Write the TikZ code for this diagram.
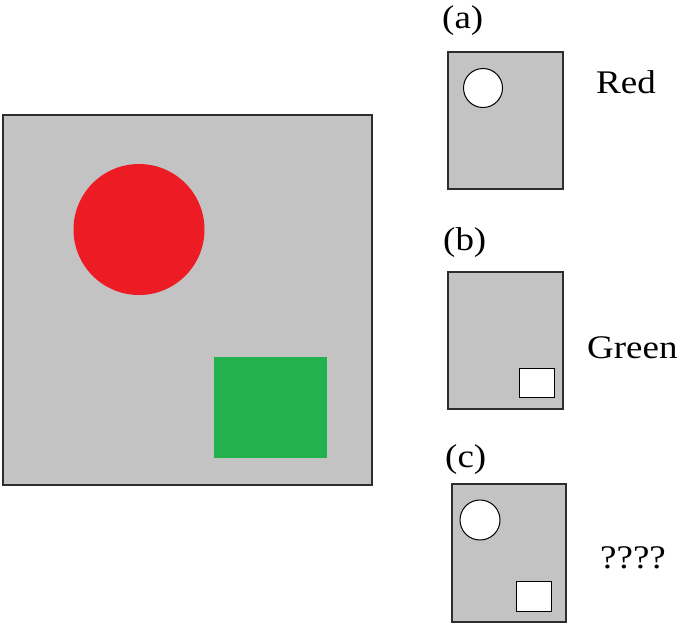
\documentclass[tikz,border=0pt]{standalone}
\usepackage{fontspec}
\setmainfont{Liberation Serif}[FakeStretch=1.12]
\definecolor{bggray}{RGB}{195,195,195}
\definecolor{redfill}{RGB}{237,28,36}
\definecolor{greenfill}{RGB}{34,177,76}
\definecolor{edge}{RGB}{45,45,45}
\tikzset{
  panel/.style={draw=edge, fill=bggray, line width=1.5pt},
  hole/.style={draw=black, fill=white, line width=1pt},
  lbl/.style={inner sep=0pt, anchor=base west, font=\fontsize{33}{40}\selectfont}
}
\begin{document}
\begin{tikzpicture}[x=1pt, y=-1pt]
\useasboundingbox (0,0) rectangle (685,625);
% main scene
\draw[panel] (3,115) rectangle (372,485);
\fill[redfill] (139,229.5) circle (65.5);
\fill[greenfill] (214,357) rectangle (327,458);
% panel (a)
\node[lbl] (la) at (442,28) {(a)};
\draw[panel] (448,52) rectangle (563,189);
\draw[hole] (483,88) circle (19.5);
\node[lbl] (ta) at (596,93) {Red};
% panel (b)
\node[lbl] (lb) at (443,250) {(b)};
\draw[panel] (448,272) rectangle (563,409);
\draw[hole] (519,368) rectangle (554,397);
\node[lbl] (tb) at (587,358) {Green};
% panel (c)
\node[lbl] (lc) at (445,467) {(c)};
\draw[panel] (452,484) rectangle (566,622);
\draw[hole] (480,520) circle (20);
\draw[hole] (516,581) rectangle (551,611);
\node[lbl] (tc) at (600,568) {????};
\end{tikzpicture}
\end{document}
